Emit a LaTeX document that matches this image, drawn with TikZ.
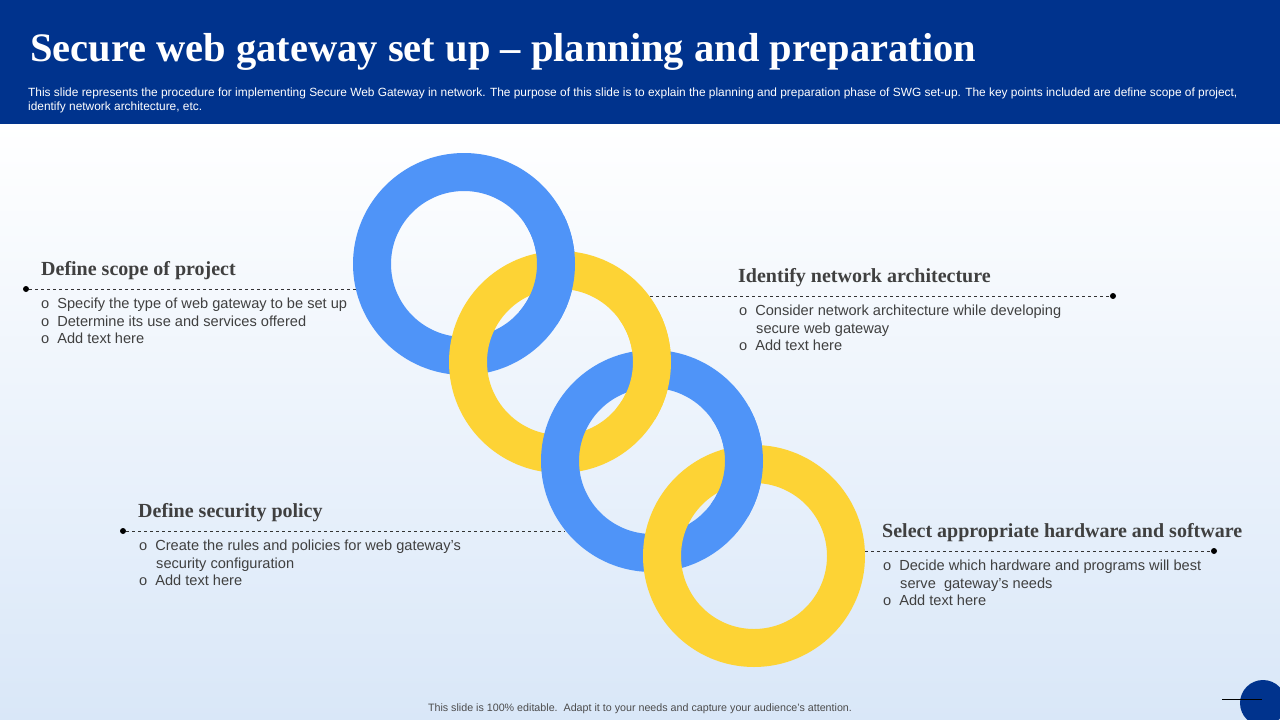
\documentclass[tikz,border=0pt]{standalone}
\usepackage{fontspec}
\setmainfont{Liberation Sans}
\newfontfamily\serifb{Liberation Serif}
\begin{document}
\begin{tikzpicture}[x=1pt,y=-1pt,
 head/.style={anchor=west,inner sep=0,font=\serifb\bfseries\fontsize{20}{22}\selectfont,text=black!75},
 bul/.style={anchor=north west,inner sep=0,font=\fontsize{14.6}{17.5}\selectfont,text=black!75,align=left},
 conn/.style={dashed,black!80,line width=0.7pt},
 dotn/.style={circle,fill=black,inner sep=0,minimum size=6pt}]
\definecolor{hdr}{HTML}{00338D}
\definecolor{rb}{HTML}{4F94F8}
\definecolor{ry}{HTML}{FDD335}
\definecolor{bgl}{HTML}{D9E7F8}
\useasboundingbox (0,0) rectangle (1280,720);
\shade[top color=white,bottom color=bgl] (0,124) rectangle (1280,720);
\fill[hdr] (0,0) rectangle (1280,124);
\node[anchor=west,inner sep=0,text=white,font=\serifb\bfseries\fontsize{40.5}{44}\selectfont] (title) at (30,52) {Secure web gateway set up – planning and preparation};
\node[anchor=north west,inner sep=0,text=white,align=left,font=\fontsize{11.9}{14}\selectfont] (sub) at (28,88) {This slide represents the procedure for implementing Secure Web Gateway in network. The purpose of this slide is to explain the planning and preparation phase of SWG set-up. The key points included are define scope of project,\\identify network architecture, etc.};
% rings
\def\ring#1#2#3{\fill[#1,even odd rule] (#2,#3) circle (111) (#2,#3) circle (73);}
\ring{rb}{464}{264}
\ring{ry}{560}{362}
\ring{rb}{652}{461}
\ring{ry}{754}{556}
\begin{scope}\clip (555,270) circle (55); \ring{rb}{464}{264}\end{scope}
\begin{scope}\clip (650,365) circle (55); \ring{ry}{560}{362}\end{scope}
\begin{scope}\clip (746,462) circle (55); \ring{rb}{652}{461}\end{scope}
% labels
\node[dotn] (d1) at (26,289) {};
\coordinate (e1) at (356,289);
\draw[conn] (d1) -- (e1);
\node[head] (h1) at (41,271) {Define scope of project};
\node[bul] (b1) at (41,298) {o\hspace{8pt}Specify the type of web gateway to be set up\\o\hspace{8pt}Determine its use and services offered\\o\hspace{8pt}Add text here};
\node[dotn] (d2) at (1113,296) {};
\coordinate (e2) at (650,296);
\draw[conn] (e2) -- (d2);
\node[head] (h2) at (738,278) {Identify network architecture};
\node[bul] (b2) at (739,305) {o\hspace{8pt}Consider network architecture while developing\\\hspace{17pt}secure web gateway\\o\hspace{8pt}Add text here};
\node[dotn] (d3) at (123,531) {};
\coordinate (e3) at (565,531);
\draw[conn] (d3) -- (e3);
\node[head] (h3) at (138,513) {Define security policy};
\node[bul] (b3) at (139,540) {o\hspace{8pt}Create the rules and policies for web gateway's\\\hspace{17pt}security configuration\\o\hspace{8pt}Add text here};
\node[dotn] (d4) at (1214,551) {};
\coordinate (e4) at (865,551);
\draw[conn] (e4) -- (d4);
\node[head] (h4) at (882,533) {Select appropriate hardware and software};
\node[bul] (b4) at (883,560) {o\hspace{8pt}Decide which hardware and programs will best\\\hspace{17pt}serve\ \ gateway's needs\\o\hspace{8pt}Add text here};
% footer
\node[inner sep=0,font=\fontsize{10.7}{12}\selectfont,text=black!70] (foot) at (640,709) {This slide is 100\% editable.\ \ Adapt it to your needs and capture your audience's attention.};
\node[circle,fill=hdr,minimum size=46pt,inner sep=0] (pc) at (1263,703) {};
\coordinate (pl) at (1222,699);
\coordinate (pr) at (1262,699);
\draw[black,line width=0.8pt] (pl) -- (pr);
\end{tikzpicture}
\end{document}
